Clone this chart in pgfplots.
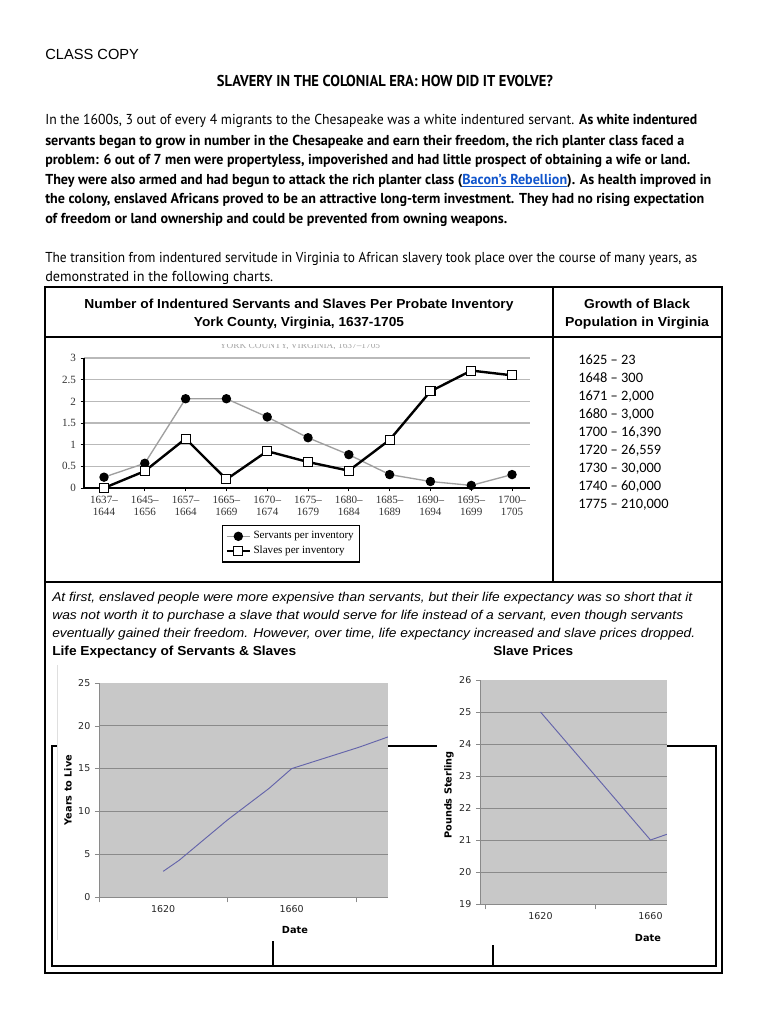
\documentclass[border=0pt]{standalone}
\usepackage{pgfplots}
\pgfplotsset{compat=1.18}
\usepackage{pgfplotstable}
\usepackage{graphicx}
\usepackage{fontspec}
\setmainfont{Liberation Sans}
\newfontfamily\fbody{PT Sans}
\newfontfamily\fserif{Liberation Serif}
\newfontfamily\fverd{DejaVu Sans}
\newfontfamily\fcal{Carlito}
\definecolor{linkblue}{HTML}{1155CC}
\definecolor{xlfill}{HTML}{C8C8C8}
\definecolor{xlgrid}{HTML}{8A8A8A}
\definecolor{xlline}{RGB}{100,100,170}
\newlength\pxu
\setlength\pxu{0.75pt}
% stretch a line to a width given in pixels, height kept
\newcommand\fit[2]{\resizebox{#1\pxu}{\height}{#2}}
\newcommand\bodyfs{\fbody\fontsize{10.8pt}{12pt}\selectfont}
\newcommand\hdfs{\bfseries\fontsize{9.8pt}{11pt}\selectfont}
\newcommand\itfs{\itshape\fontsize{9.6pt}{11pt}\selectfont}

% York County probate inventories, per period
\pgfplotstableread{
cat servants slaves
0  0.25 0.00
1  0.57 0.39
2  2.06 1.14
3  2.06 0.20
4  1.64 0.85
5  1.16 0.60
6  0.77 0.40
7  0.31 1.11
8  0.15 2.23
9  0.06 2.71
10 0.31 2.60
}\yorktable

\begin{document}
\begin{tikzpicture}[x=0.75pt,y=-0.75pt]
\path[fill=white] (0,0) rectangle (768,1024);
\coordinate (ax1) at (84,488);
\coordinate (ax2) at (99,897);
\coordinate (ax3) at (480,904);

% ---- page text ----
\node[anchor=base west,inner sep=0] at (45,60) {\fontsize{11pt}{12pt}\selectfont CLASS COPY};
\node[anchor=base,inner sep=0] at (385,86) {\fit{336}{\fbody\bfseries\fontsize{11.8pt}{13pt}\selectfont SLAVERY IN THE COLONIAL ERA: HOW DID IT EVOLVE?}};

\node[anchor=base west,inner sep=0] at (45,125) {\fit{652}{\bodyfs In the 1600s, 3 out of every 4 migrants to the Chesapeake was a white indentured servant. \textbf{As white indentured}}};
\node[anchor=base west,inner sep=0] at (45,145) {\fit{639}{\bodyfs\bfseries servants began to grow in number in the Chesapeake and earn their freedom, the rich planter class faced a}};
\node[anchor=base west,inner sep=0] at (45,164) {\fit{645}{\bodyfs\bfseries problem: 6 out of 7 men were propertyless, impoverished and had little prospect of obtaining a wife or land.}};
\node[anchor=base west,inner sep=0] at (45,184) {\fit{666}{\bodyfs\bfseries They were also armed and had begun to attack the rich planter class (\textcolor{linkblue}{\underline{Bacon’s Rebellion}}). As health improved in}};
\node[anchor=base west,inner sep=0] at (45,203) {\fit{659}{\bodyfs\bfseries the colony, enslaved Africans proved to be an attractive long-term investment. They had no rising expectation}};
\node[anchor=base west,inner sep=0] at (45,223) {\fit{462}{\bodyfs\bfseries of freedom or land ownership and could be prevented from owning weapons.}};

\node[anchor=base west,inner sep=0] at (45,262) {\fit{652}{\bodyfs The transition from indentured servitude in Virginia to African slavery took place over the course of many years, as}};
\node[anchor=base west,inner sep=0] at (45,281) {\fit{228}{\bodyfs demonstrated in the following charts.}};

% ---- table frame ----
\draw[line width=1pt] (45,287) rectangle (722,973);
\draw[line width=1pt] (45,337) -- (722,337);
\draw[line width=1pt] (553,287) -- (553,582);
\draw[line width=1.5pt] (45,582) -- (722,582);
\draw[line width=1.5pt] (52,746) -- (52,966) -- (716,966) -- (716,746) -- cycle;
\draw[line width=1.5pt] (273,941) -- (273,966);
\draw[line width=1pt] (493,945) -- (493,966);
% chart pictures sit on white over the frame
\fill[white] (57,662) rectangle (388,940);
\fill[white] (437,662) rectangle (667,945);
\draw[gray!25] (57,665) -- (57,940);

\node[anchor=base,inner sep=0] at (299,308) {\fit{429}{\hdfs Number of Indentured Servants and Slaves Per Probate Inventory}};
\node[anchor=base,inner sep=0] at (299,326) {\fit{210}{\hdfs York County, Virginia, 1637-1705}};
\node[anchor=base,inner sep=0] at (637,308) {\fit{106}{\hdfs Growth of Black}};
\node[anchor=base,inner sep=0] at (637,326) {\fit{144}{\hdfs Population in Virginia}};

% cut-off subtitle of the scanned chart
\begin{scope}
\clip (150,344) rectangle (450,348.5);
\node[gray!70,inner sep=0,anchor=base] at (300,348) {\fserif\fontsize{7pt}{8pt}\selectfont YORK COUNTY, VIRGINIA, 1637–1705};
\end{scope}

% black population list
\foreach \t [count=\i from 0] in {{1625 – 23},{1648 – 300},{1671 – 2,000},{1680 – 3,000},{1700 – 16,390},{1720 – 26,559},{1730 – 30,000},{1740 – 60,000},{1775 – 210,000}}{
  \node[anchor=base west,inner sep=0] at (578,364.5+18*\i) {\fcal\fontsize{10.8pt}{12pt}\selectfont \t};
}

\node[anchor=base west,inner sep=0] at (52,601.5) {\fit{640}{\itfs At first, enslaved people were more expensive than servants, but their life expectancy was so short that it}};
\node[anchor=base west,inner sep=0] at (52,619.5) {\fit{631}{\itfs was not worth it to purchase a slave that would serve for life instead of a servant, even though servants}};
\node[anchor=base west,inner sep=0] at (52,637.5) {\fit{643}{\itfs eventually gained their freedom. However, over time, life expectancy increased and slave prices dropped.}};
\node[anchor=base west,inner sep=0] at (52,655) {\fit{244}{\hdfs Life Expectancy of Servants \& Slaves}};
\node[anchor=base west,inner sep=0] at (493,655) {\fit{80}{\hdfs Slave Prices}};

% ---- chart 1: probate inventories ----
\begin{axis}[
  at={(ax1)}, anchor=south west,
  scale only axis, width=334.5pt, height=97.5pt,
  xmin=-0.49, xmax=10.44, ymin=0, ymax=3,
  clip=false,
  axis x line*=bottom, axis y line*=left,
  axis line style={-, black, line width=0.9pt},
  xtick={0,...,10},
  xticklabels={{1637–\\1644},{1645–\\1656},{1657–\\1664},{1665–\\1669},{1670–\\1674},{1675–\\1679},{1680–\\1684},{1685–\\1689},{1690–\\1694},{1695–\\1699},{1700–\\1705}},
  ytick={0,0.5,1,1.5,2,2.5,3},
  yticklabels={0,0.5,1,1.5,2,2.5,3},
  ymajorgrids, grid style={gray!55, line width=0.8pt},
  tick align=outside, major tick length=2.5pt,
  tick style={black, line width=0.6pt},
  xticklabel style={align=center, font=\fserif\fontsize{8.3pt}{8.8pt}\selectfont, color=black!80},
  yticklabel style={font=\fserif\fontsize{8.3pt}{9pt}\selectfont, color=black!80},
  legend style={at={(0.309,-0.285)}, anchor=north west, draw=black, line width=0.9pt,
    font=\fserif\fontsize{8.3pt}{9pt}\selectfont, cells={anchor=west}, row sep=0pt,
    inner sep=2.5pt},
  legend cell align=left,
]
\addplot[gray!75, line width=1pt, mark=*, mark size=3pt, mark options={fill=black, draw=black}]
  table[x=cat, y=servants] {\yorktable};
\addlegendentry{Servants per inventory}
\addplot[black, line width=1.8pt, mark=square*, mark size=3.4pt, mark options={fill=white, draw=black, line width=0.8pt}]
  table[x=cat, y=slaves] {\yorktable};
\addlegendentry{Slaves per inventory}
\end{axis}

% ---- chart 2: life expectancy ----
\begin{axis}[
  at={(ax2)}, anchor=south west,
  scale only axis, width=216.75pt, height=160.5pt,
  xmin=1600, xmax=1690, ymin=0, ymax=25,
  axis background/.style={fill=xlfill},
  axis lines*=left,
  axis line style={-, xlgrid, line width=0.6pt},
  /pgf/number format/assume math mode=true,
  ytick={0,5,...,25},
  extra y ticks={5,10,15,20}, extra y tick labels={},
  extra y tick style={grid=major, major tick length=0pt},
  grid style={xlgrid, line width=0.6pt},
  xtick={1620,1660}, xticklabels={1620,1660},
  xtick style={draw=none},
  extra x ticks={1600,1640,1680}, extra x tick labels={},
  extra x tick style={xtick style={draw=xlgrid}, major tick length=4pt},
  tick align=outside, major tick length=3pt,
  ytick style={xlgrid},
  ticklabel style={font=\fverd\fontsize{7.1pt}{8pt}\selectfont, color=black!85},
  xlabel={Date}, ylabel={Years to Live},
  xlabel style={at={(axis description cs:0.678,-0.154)}, anchor=center, font=\fverd\bfseries\fontsize{7.3pt}{8pt}\selectfont},
  ylabel style={at={(axis description cs:-0.107,0.5)}, anchor=center, rotate=0, font=\fverd\bfseries\fontsize{7.3pt}{8pt}\selectfont},
]
\addplot[xlline, line width=0.7pt] coordinates {
  (1620,3.0) (1625,4.3) (1640,9.0) (1653,12.7) (1660,15.0) (1681,17.5) (1690,18.7)
};
\end{axis}

% ---- chart 3: slave prices ----
\begin{axis}[
  at={(ax3)}, anchor=south west,
  scale only axis, width=140.25pt, height=168pt,
  xmin=1598, xmax=1666, ymin=19, ymax=26,
  axis background/.style={fill=xlfill},
  axis lines*=left,
  axis line style={-, xlgrid, line width=0.6pt},
  /pgf/number format/assume math mode=true,
  ytick={19,...,26},
  extra y ticks={20,...,25}, extra y tick labels={},
  extra y tick style={grid=major, major tick length=0pt},
  grid style={xlgrid, line width=0.6pt},
  xtick={1620,1660}, xticklabels={1620,1660},
  xtick style={draw=none},
  extra x ticks={1600,1640}, extra x tick labels={},
  extra x tick style={xtick style={draw=xlgrid}, major tick length=4pt},
  tick align=outside, major tick length=3pt,
  ytick style={xlgrid},
  ticklabel style={font=\fverd\fontsize{7.1pt}{8pt}\selectfont, color=black!85},
  xlabel={Date}, ylabel={Pounds Sterling},
  xlabel style={at={(axis description cs:0.898,-0.152)}, anchor=center, font=\fverd\bfseries\fontsize{7.3pt}{8pt}\selectfont},
  ylabel style={at={(axis description cs:-0.166,0.487)}, anchor=center, rotate=0, font=\fverd\bfseries\fontsize{7.3pt}{8pt}\selectfont},
]
\addplot[xlline, line width=0.7pt] coordinates {
  (1620,25.0) (1660,21.0) (1680,21.6)
};
\end{axis}
\end{tikzpicture}
\end{document}
